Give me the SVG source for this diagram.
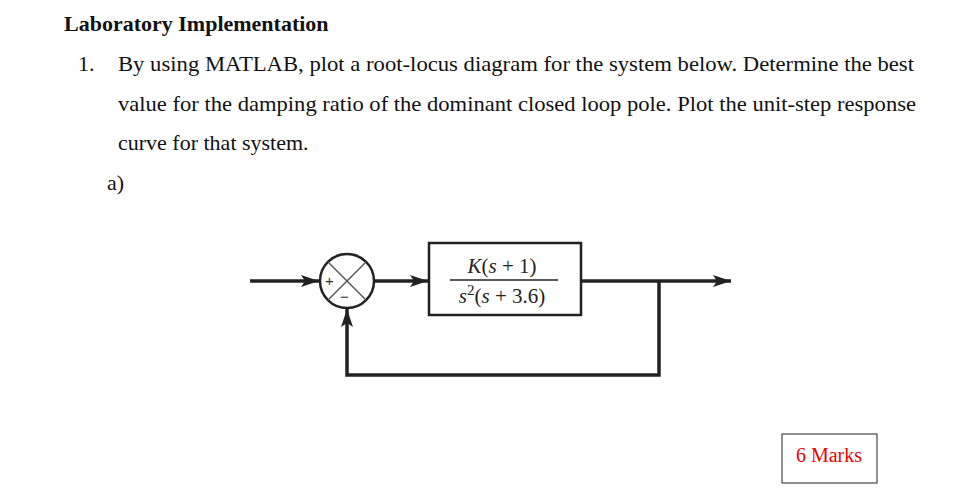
<svg xmlns="http://www.w3.org/2000/svg" width="959" height="499" viewBox="0 0 959 499">
<defs>
<marker id="ah" viewBox="0 0 18 12" markerWidth="18" markerHeight="12" refX="18" refY="6" orient="auto" markerUnits="userSpaceOnUse"><path d="M0,0 L18,6 L0,12 L4,6 Z" fill="#222"/></marker>
<style>
.t{font-family:"Liberation Serif",serif;font-size:22px;fill:#111}
.w{stroke:#222;stroke-width:3.5;fill:none}
</style>
</defs>
<rect width="959" height="499" fill="#fff"/>
<text x="64" y="31" class="t" style="font-weight:bold;font-size:22px">Laboratory Implementation</text>
<text x="78" y="71" class="t">1.</text>
<text x="118" y="71" class="t" textLength="796" lengthAdjust="spacingAndGlyphs">By using MATLAB, plot a root-locus diagram for the system below. Determine the best</text>
<text x="118" y="111" class="t" textLength="798" lengthAdjust="spacingAndGlyphs">value for the damping ratio of the dominant closed loop pole. Plot the unit-step response</text>
<text x="118" y="150" class="t">curve for that system.</text>
<text x="107" y="190" class="t">a)</text>
<g id="sum">
<circle cx="347" cy="281" r="27" fill="#fff" stroke="#222" stroke-width="2.5"/>
<line x1="328" y1="262" x2="366" y2="300" stroke="#555" stroke-width="1.5"/>
<line x1="366" y1="262" x2="328" y2="300" stroke="#555" stroke-width="1.5"/>
<text x="325" y="286" style="font-family:'Liberation Sans',sans-serif;font-size:15px;fill:#333">+</text>
<text x="340" y="302" style="font-family:'Liberation Sans',sans-serif;font-size:15px;fill:#333">−</text>
</g>
<g id="plant">
<rect x="429" y="243" width="152" height="72" fill="#fff" stroke="#222" stroke-width="2.5"/>
<text x="502" y="273" text-anchor="middle" style="font-family:'Liberation Serif',serif;font-size:21px;fill:#222"><tspan font-style="italic">K</tspan>(<tspan font-style="italic">s</tspan> + 1)</text>
<line x1="450" y1="280" x2="558" y2="280" stroke="#222" stroke-width="1.3"/>
<text x="502" y="303" text-anchor="middle" style="font-family:'Liberation Serif',serif;font-size:21px;fill:#222"><tspan font-style="italic">s</tspan><tspan dy="-8" font-size="15">2</tspan><tspan dy="8">(</tspan><tspan font-style="italic">s</tspan> + 3.6)</text>
</g>
<g id="connectors">
<line class="w" x1="250" y1="281" x2="319" y2="281" marker-end="url(#ah)"/>
<line class="w" x1="374" y1="281" x2="428" y2="281" marker-end="url(#ah)"/>
<line class="w" x1="581" y1="281" x2="731" y2="281" marker-end="url(#ah)"/>
<polyline class="w" points="659,281 659,375 347,375 347,309" marker-end="url(#ah)"/>
</g>
<g id="marks">
<rect x="782" y="434" width="95" height="49" fill="#fff" stroke="#222" stroke-width="1"/>
<text x="829" y="462" text-anchor="middle" style="font-family:'Liberation Serif',serif;font-size:20px;fill:#e00">6 Marks</text>
</g>
</svg>
